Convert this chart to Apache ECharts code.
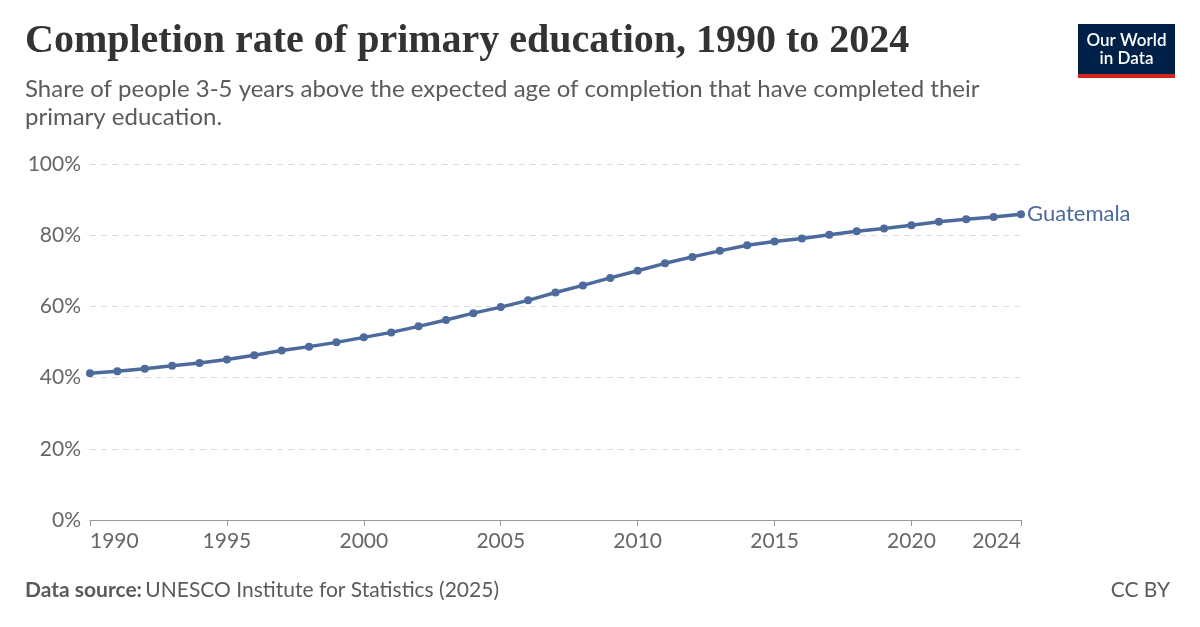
<!DOCTYPE html>
<html><head><meta charset="utf-8">
<script src="https://cdn.jsdelivr.net/npm/echarts@6/dist/echarts.min.js"></script>
<style>html,body{margin:0;padding:0;background:#fff}#c{width:1200px;height:627px}</style>
</head><body><div id="c"></div>
<script>
const years = [1990,1991,1992,1993,1994,1995,1996,1997,1998,1999,2000,2001,2002,2003,2004,2005,2006,2007,2008,2009,2010,2011,2012,2013,2014,2015,2016,2017,2018,2019,2020,2021,2022,2023,2024];
const guatemala = [41.2,41.8,42.5,43.3,44.1,45.1,46.3,47.6,48.7,49.9,51.3,52.7,54.4,56.2,58.1,59.8,61.7,63.9,65.9,68.0,70.0,72.1,73.9,75.6,77.2,78.2,79.1,80.1,81.1,81.9,82.8,83.8,84.5,85.1,85.9];
const xTicks = [1990,1995,2000,2005,2010,2015,2020,2024];
const yTicks = [0,20,40,60,80,100];
const seriesName = 'Guatemala';

const chart = echarts.init(document.getElementById('c'));
const sans = 'Lato, "Noto Sans", sans-serif';
chart.setOption({
  animation:false,
  grid:{left:90,right:179,top:164,bottom:107,containLabel:false},
  xAxis:{type:'value',min:1990,max:2024,
    axisLine:{show:true,lineStyle:{color:'#999',width:1}},
    axisTick:{show:true,length:6,lineStyle:{color:'#999'},customValues:xTicks},
    axisLabel:{customValues:xTicks,color:'#666',fontSize:21,fontFamily:sans,margin:11,formatter:v=>String(v),
      alignMinLabel:'left',alignMaxLabel:'right'},
    splitLine:{show:false}},
  yAxis:{type:'value',min:0,max:100,interval:20,
    axisLine:{show:false},axisTick:{show:false},
    axisLabel:{customValues:yTicks,color:'#666',fontSize:21,fontFamily:sans,margin:9,formatter:v=>v+'%'},
    splitLine:{show:true,lineStyle:{color:'#ddd',type:[6,5],width:1}}},
  series:[{name:seriesName,type:'line',data:years.map((y,i)=>[y,guatemala[i]]),
    lineStyle:{color:'#4c6a9c',width:3.5},itemStyle:{color:'#4c6a9c'},
    symbol:'circle',symbolSize:8,showAllSymbol:true,
    endLabel:{show:true,formatter:'{a}',color:'#4c6a9c',fontSize:22,fontFamily:sans,distance:6}}],
  graphic:[
    {type:'text',left:25,top:22,style:{text:'Completion rate of primary education, 1990 to 2024',font:'bold 40px "Liberation Serif", serif',fill:'#333'}},
    {type:'text',left:25,top:75,style:{text:'Share of people 3-5 years above the expected age of completion that have completed their\nprimary education.',font:'24px Lato, sans-serif',fill:'#5b5b5b',lineHeight:28}},
    {type:'rect',shape:{x:1078,y:24,width:97,height:50},style:{fill:'#002147'}},
    {type:'rect',shape:{x:1078,y:74,width:97,height:4},style:{fill:'#ce261e'}},
    {type:'text',x:1126.5,y:41,style:{text:'Our World',font:'600 17px Lato, sans-serif',fill:'#fff',align:'center',verticalAlign:'middle'}},
    {type:'text',x:1126.5,y:59,style:{text:'in Data',font:'600 17px Lato, sans-serif',fill:'#fff',align:'center',verticalAlign:'middle'}},
    {type:'text',left:25,top:580,style:{rich:{b:{font:'bold 21px Lato, sans-serif',fill:'#5b5b5b'},n:{font:'21px Lato, sans-serif',fill:'#5b5b5b'}},text:'{b|Data source:} {n|UNESCO Institute for Statistics (2025)}'}},
    {type:'text',right:30,top:580,style:{text:'CC BY',font:'21px Lato, sans-serif',fill:'#5b5b5b'}}
  ]
});
</script></body></html>
